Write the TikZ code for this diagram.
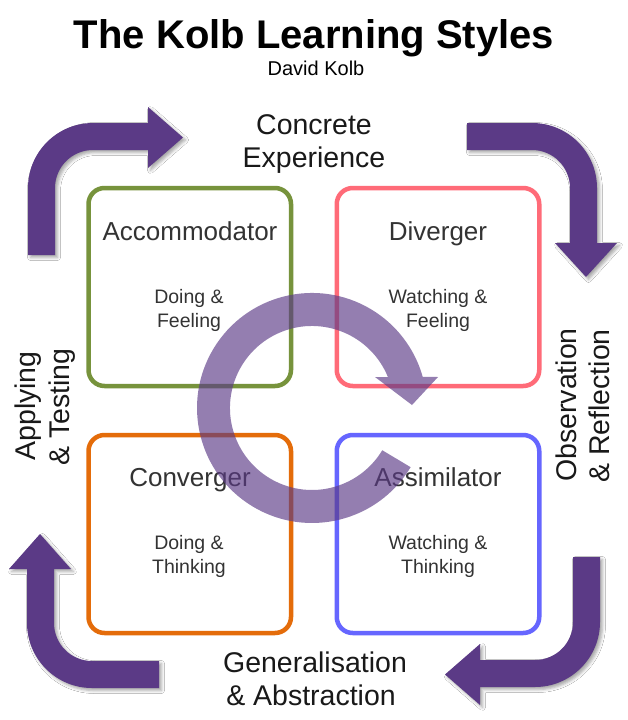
\documentclass[tikz,border=0pt]{standalone}
\usepackage{fontspec}
\setmainfont{Liberation Sans}
\usetikzlibrary{shadows.blur}
\definecolor{kpurple}{HTML}{5B3A86}
\definecolor{kgreen}{HTML}{77933C}
\definecolor{kred}{HTML}{FF6B78}
\definecolor{korange}{HTML}{E46C0A}
\definecolor{kblue}{HTML}{6666FF}
\definecolor{ktext}{HTML}{333333}
\begin{document}
\begin{tikzpicture}[x=1pt,y=-1pt,
  stylebox/.style={draw, line width=4.5pt, rounded corners=16pt, minimum width=202.5pt, minimum height=198pt, fill=white, inner sep=0pt},
  boxtitle/.style={text=ktext, font=\fontsize{26}{31}\selectfont, anchor=base, inner sep=0pt},
  boxsub/.style={text=ktext, font=\fontsize{19.5}{24}\selectfont, anchor=base, inner sep=0pt},
  sidelabel/.style={text=black!90, font=\fontsize{28.5}{33}\selectfont, anchor=base, inner sep=0pt},
  bigarrow/.style={fill=kpurple, blur shadow={shadow xshift=2.5pt, shadow yshift=-2.5pt, shadow blur radius=3pt, shadow opacity=35}},
  ring/.style={fill=kpurple, fill opacity=0.65}
]
\useasboundingbox (0,0) rectangle (627,720);
\fill[white] (0,0) rectangle (627,720);

% title
\node[anchor=base, inner sep=0pt, font=\fontsize{40}{46}\selectfont\bfseries] (title) at (314,48) {The Kolb Learning Styles};
\node[anchor=base, inner sep=0pt, font=\fontsize{20}{24}\selectfont] (author) at (316,75) {David Kolb};

% boxes
\node[stylebox, draw=kgreen] (acc) at (189.75,287) {};
\node[stylebox, draw=kred] (div) at (438,287) {};
\node[stylebox, draw=korange] (con) at (189.75,534) {};
\node[stylebox, draw=kblue] (ass) at (438,534) {};

% box texts
\node[boxtitle] (acct) at (190,240) {Accommodator};
\node[boxsub] (accs1) at (189,303) {Doing \&};
\node[boxsub] (accs2) at (189,327) {Feeling};
\node[boxtitle] (divt) at (438,240) {Diverger};
\node[boxsub] (divs1) at (438,303) {Watching \&};
\node[boxsub] (divs2) at (438,327) {Feeling};
\node[boxtitle] (cont) at (190,486) {Converger};
\node[boxsub] (cons1) at (189,549) {Doing \&};
\node[boxsub] (cons2) at (189,573) {Thinking};
\node[boxtitle] (asst) at (438,486) {Assimilator};
\node[boxsub] (asss1) at (438,549) {Watching \&};
\node[boxsub] (asss2) at (438,573) {Thinking};

% side labels
\node[sidelabel] (ce1) at (314,134) {Concrete};
\node[sidelabel] (ce2) at (314,167) {Experience};
\node[sidelabel] (ga1) at (315,672) {Generalisation};
\node[sidelabel] (ga2) at (311,705) {\& Abstraction};
\node[sidelabel, rotate=90] (at1) at (35,406) {Applying};
\node[sidelabel, rotate=90] (at2) at (69,407) {\& Testing};
\node[sidelabel, rotate=90] (or1) at (576,405) {Observation};
\node[sidelabel, rotate=90] (or2) at (609,406) {\& Reflection};

% big corner arrows
\path[bigarrow] (28,255) -- (28,188) arc[start angle=180, end angle=270, radius=65]
  -- (148,123) -- (148,107) -- (183,137.5) -- (148,168) -- (148,150) -- (93,150)
  arc[start angle=270, end angle=180, radius=38] -- (55,255) -- cycle;
\path[bigarrow] (467,123) -- (532,123) arc[start angle=270, end angle=360, radius=65]
  -- (597,243) -- (617,243) -- (586,277) -- (555,243) -- (570,243) -- (570,188)
  arc[start angle=0, end angle=-90, radius=38] -- (467,150) -- cycle;
\path[bigarrow] (600,557) -- (600,622) arc[start angle=0, end angle=90, radius=65]
  -- (480,687) -- (480,705) -- (445,674.5) -- (480,644) -- (480,660) -- (535,660)
  arc[start angle=90, end angle=0, radius=38] -- (573,557) -- cycle;
\path[bigarrow] (159,688) -- (92,688) arc[start angle=90, end angle=180, radius=65]
  -- (27,569) -- (9,569) -- (40,534) -- (71,569) -- (54,569) -- (54,623)
  arc[start angle=180, end angle=90, radius=38] -- (159,661) -- cycle;

% central cycle arrow
\path[ring] (410.6,467.2) arc[start angle=31, end angle=344.3, radius=115]
  -- (438,377) -- (412,405) -- (375,377) -- (387.9,377.0)
  arc[start angle=337.8, end angle=31, radius=82] -- cycle;
\end{tikzpicture}
\end{document}
